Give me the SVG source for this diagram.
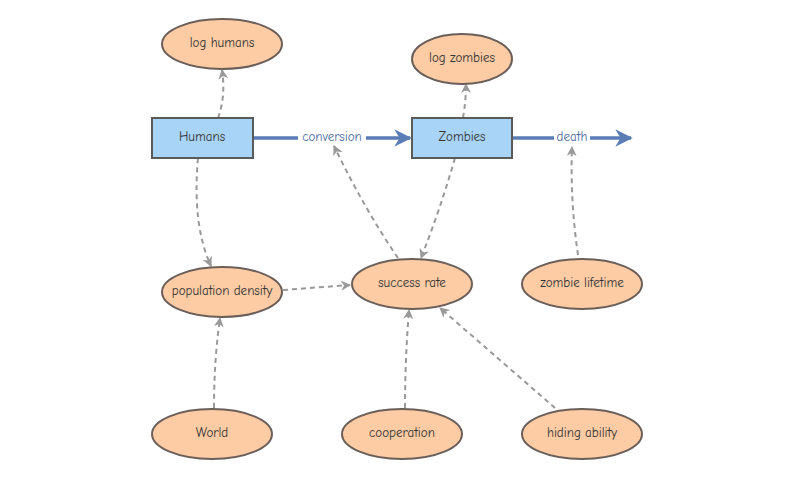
<svg xmlns="http://www.w3.org/2000/svg" width="800" height="477" viewBox="0 0 800 477">
<style>
.e{fill:#fdcba4;stroke:#6b5f5a;stroke-width:2}
.s{fill:#a8d4f8;stroke:#5a5a5a;stroke-width:2}
text{font-family:"Comic Neue","DejaVu Sans",sans-serif;font-size:13px;fill:#333;text-anchor:middle;dominant-baseline:middle}
.d{fill:none;stroke:#999;stroke-width:2;stroke-dasharray:5,4;marker-end:url(#a)}
.f{stroke:#5b7db6;stroke-width:3.5;fill:none;marker-end:url(#b)}
.fl{fill:#4a6aa0}
</style>
<defs>
<marker id="a" viewBox="0 0 10 10" refX="9" refY="5" markerWidth="5" markerHeight="5" orient="auto"><path d="M0,0L10,5L0,10L3,5z" fill="#999"/></marker>
<marker id="b" viewBox="0 0 10 10" refX="9" refY="5" markerWidth="5" markerHeight="5" orient="auto"><path d="M0,0L10,5L0,10L3,5z" fill="#5b7db6"/></marker>
</defs>
<rect width="800" height="477" fill="#fff"/>
<g id="connectors">
<path class="f" d="M253,138H410"/>
<path class="f" d="M512,138H631"/>
<path class="d" d="M218,118Q226,96 222,70"/>
<path class="d" d="M463,118Q466,100 466,84"/>
<path class="d" d="M198,158Q192,225 211,266"/>
<path class="d" d="M283,290L350,285"/>
<path class="d" d="M398,258Q365,210 334,146"/>
<path class="d" d="M455,158Q440,210 421,258"/>
<path class="d" d="M578,255Q570,200 572,147"/>
<path class="d" d="M214,408Q214,360 220,318"/>
<path class="d" d="M405,408Q405,360 409,310"/>
<path class="d" d="M555,408Q500,360 440,308"/>
</g>
<g id="conversion-label"><rect x="298" y="131" width="68" height="14" fill="#fff"/><text class="fl" x="332" y="138">conversion</text></g>
<g id="death-label"><rect x="554" y="131" width="36" height="14" fill="#fff"/><text class="fl" x="572" y="138">death</text></g>
<g id="loghumans"><ellipse class="e" cx="222" cy="44" rx="60" ry="25"/><text x="222" y="44">log humans</text></g>
<g id="logzombies"><ellipse class="e" cx="462" cy="59" rx="50" ry="25"/><text x="462" y="59">log zombies</text></g>
<g id="humans"><rect class="s" x="152" y="118" width="101" height="40"/><text x="202" y="138">Humans</text></g>
<g id="zombies"><rect class="s" x="412" y="118" width="100" height="40"/><text x="462" y="138">Zombies</text></g>
<g id="popdensity"><ellipse class="e" cx="222" cy="292" rx="60" ry="25"/><text x="222" y="292">population density</text></g>
<g id="successrate"><ellipse class="e" cx="412" cy="284" rx="60" ry="25"/><text x="412" y="284">success rate</text></g>
<g id="zombielifetime"><ellipse class="e" cx="582" cy="284" rx="60" ry="25"/><text x="582" y="284">zombie lifetime</text></g>
<g id="world"><ellipse class="e" cx="212" cy="434" rx="60" ry="25"/><text x="212" y="434">World</text></g>
<g id="cooperation"><ellipse class="e" cx="402" cy="434" rx="60" ry="25"/><text x="402" y="434">cooperation</text></g>
<g id="hidingability"><ellipse class="e" cx="582" cy="434" rx="60" ry="25"/><text x="582" y="434">hiding ability</text></g>
</svg>
